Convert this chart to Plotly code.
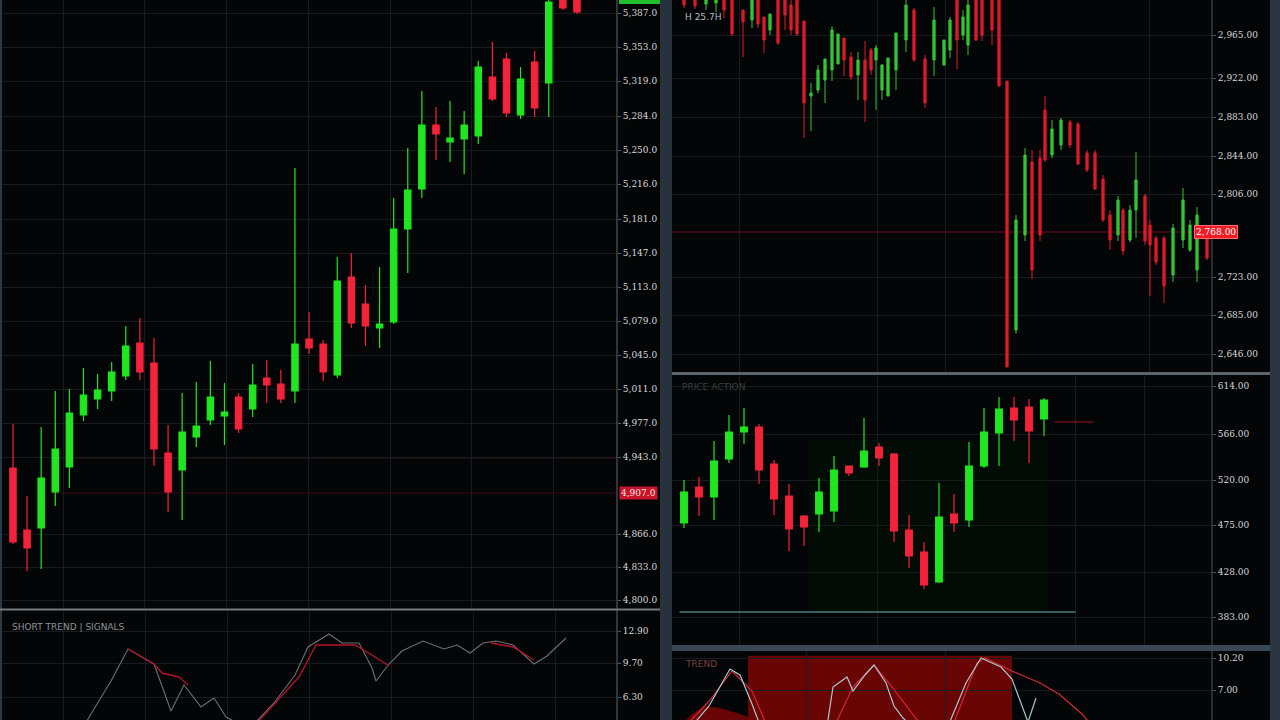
import plotly.graph_objects as go

W, H = 1280, 720
BG = "#040506"
GREEN = "#1fe61f"
RED = "#f4223a"
GRID = "#181c20"
TICK_FONT = dict(family="DejaVu Serif", size=9, color="#d4d7d9")

# ---------------- main chart (left) ----------------
main_open = [4932, 4870, 4872, 4908, 4933, 4985, 5001, 5009, 5024, 5057,
             5037, 4947, 4930, 4963, 4980, 4984, 5003, 4991, 5022, 5016,
             5009, 5061, 5056, 5025, 5123, 5096, 5072, 5078, 5171, 5211,
             5275, 5258, 5261, 5264, 5323, 5341, 5285, 5338, 5317, 5405, 5405]
main_high = [4976, 4904, 4973, 5009, 5011, 5032, 5026, 5038, 5074, 5082,
             5062, 4975, 5007, 5018, 5039, 5017, 5007, 5036, 5040, 5030,
             5232, 5088, 5060, 5143, 5147, 5115, 5133, 5202, 5252, 5309,
             5293, 5299, 5289, 5339, 5358, 5347, 5333, 5349, 5405, 5410, 5410]
main_low = [4856, 4829, 4831, 4894, 4912, 4979, 4991, 4999, 5020, 5020,
            4934, 4888, 4880, 4953, 4975, 4955, 4967, 4983, 4997, 4997,
            4997, 5046, 5019, 5022, 5072, 5054, 5052, 5076, 5127, 5202,
            5240, 5238, 5226, 5256, 5299, 5283, 5281, 5283, 5283, 5390, 5386]
main_close = [4858, 4852, 4922, 4951, 4987, 5005, 5010, 5028, 5054, 5028,
              4951, 4908, 4968, 4974, 5003, 4988, 4971, 5015, 5015, 5001,
              5056, 5052, 5028, 5119, 5077, 5074, 5076, 5171, 5210, 5275,
              5266, 5262, 5275, 5333, 5301, 5287, 5321, 5292, 5398, 5392, 5388]
main_ticks = [5387, 5353, 5319, 5284, 5250, 5216, 5181, 5147, 5113, 5079,
              5045, 5011, 4977, 4943, 4866, 4833, 4800]
main_last = 4907
main_levels = [4942, 4907]

# ---------------- oscillator under the main chart ----------------
osc_x = [49, 58, 64, 85, 111, 128, 154, 171, 184, 201, 214, 226, 239, 254,
         274, 295, 308, 329, 342, 359, 372, 376, 389, 402, 423, 444, 457,
         470, 483, 496, 513, 534, 547, 566]
osc_fast = [0.6, 2.3, 1.3, 3.6, 7.9, 11.1, 9.6, 4.9, 7.5, 5.3, 6.2, 4.3, 3.6,
            3.6, 5.7, 8.5, 11.3, 12.6, 11.7, 11.7, 9.2, 7.9, 9.6, 10.9, 11.9,
            11.1, 11.5, 10.7, 11.7, 11.9, 11.5, 9.6, 10.4, 12.2]
osc_sig_x = [55, 64, 85, None, 128, 154, 162, 179, 188, None,
             256, 275, 299, 316, 355, 372, 389, None, 491, 513, 534]
osc_sig = [0.8, 1.5, 3.6, None, 11.1, 9.6, 8.7, 8.3, 7.5, None,
           3.6, 5.7, 8.3, 11.5, 11.5, 10.5, 9.4, None, 11.7, 11.3, 10.0]
osc_ticks = [12.9, 9.7, 6.3]

# ---------------- intraday chart (right, top) ----------------
intra_t = [684, 695, 706, 716, 724, 732, 743, 752, 758, 764,
           770, 778, 785, 791, 797, 804, 811, 818, 825, 832,
           838, 844, 851, 858, 865, 871, 876, 882, 888, 896,
           906, 914, 925, 934, 944, 950, 957, 963, 968, 976,
           982, 992, 999, 1007, 1016, 1025, 1032, 1040, 1045, 1052,
           1061, 1070, 1078, 1087, 1095, 1103, 1110, 1118, 1123, 1130,
           1136, 1145, 1150, 1156, 1164, 1173, 1183, 1190, 1197, 1207]
intra_open = [3000, 3000, 2996, 2997, 3000, 3000, 2990, 2980, 3000, 2983,
              2970, 3000, 3000, 2995, 3000, 2979, 2904, 2910, 2920, 2930,
              2936, 2962, 2943, 2925, 2940, 2950, 2940, 2910, 2904, 2930,
              2960, 2990, 2941, 2940, 2935, 2950, 3000, 2965, 2955, 3000,
              3000, 3000, 3000, 2919, 2670, 2765, 2838, 2842, 2890, 2845,
              2855, 2878, 2876, 2847, 2847, 2821, 2785, 2765, 2790, 2760,
              2790, 2804, 2775, 2762, 2762, 2725, 2760, 2750, 2730, 2773]
intra_close = [2995, 2994, 3000, 3000, 2990, 2966, 2978, 3000, 2976, 2960,
               2986, 2957, 2985, 2970, 2966, 2897, 2907, 2930, 2941, 2970,
               2966, 2940, 2923, 2940, 2900, 2930, 2952, 2935, 2942, 2967,
               2995, 2940, 2897, 2980, 2960, 2980, 2960, 2983, 2995, 2960,
               2965, 2970, 2914, 2633, 2780, 2845, 2730, 2765, 2840, 2871,
               2880, 2855, 2836, 2830, 2811, 2780, 2760, 2800, 2749, 2790,
               2820, 2759, 2755, 2738, 2714, 2772, 2800, 2775, 2785, 2742]
intra_high = [3000, 3000, 3000, 3000, 3000, 3000, 2990, 3000, 3000, 2983,
              2986, 3000, 3000, 3000, 3000, 2979, 2917, 2935, 2941, 2974,
              2966, 2962, 2948, 2948, 2959, 2952, 2955, 2936, 2942, 2967,
              3000, 2992, 2945, 2993, 2960, 2983, 3000, 2990, 3000, 3000,
              3000, 3000, 3000, 2919, 2785, 2852, 2850, 2850, 2904, 2880,
              2882, 2880, 2878, 2850, 2850, 2825, 2790, 2804, 2792, 2795,
              2848, 2806, 2780, 2764, 2764, 2776, 2812, 2780, 2793, 2775]
intra_low = [2992, 2991, 2990, 2988, 2982, 2964, 2943, 2972, 2972, 2947,
             2965, 2955, 2970, 2965, 2964, 2862, 2869, 2907, 2897, 2919,
             2936, 2924, 2920, 2900, 2878, 2925, 2890, 2900, 2904, 2910,
             2948, 2938, 2892, 2924, 2934, 2942, 2931, 2960, 2945, 2959,
             2959, 2955, 2914, 2633, 2666, 2759, 2721, 2759, 2838, 2842,
             2850, 2852, 2835, 2828, 2810, 2778, 2750, 2759, 2745, 2758,
             2762, 2755, 2704, 2735, 2697, 2718, 2752, 2748, 2718, 2740]
intra_ticks = [2965, 2922, 2883, 2844, 2806, 2723, 2685, 2646]
intra_last = 2768

# ---------------- price action chart (right, middle) ----------------
pa_open = [477, 513, 503, 541, 568, 573, 536, 504, 484, 486,
           489, 534, 533, 553, 546, 470, 448, 418, 486, 480,
           534, 567, 592, 593, 581]
pa_close = [508, 503, 539, 568, 573, 530, 501, 471, 473, 508,
            530, 527, 549, 542, 469, 444, 415, 483, 477, 534,
            568, 591, 580, 569, 600]
pa_high = [520, 523, 559, 585, 592, 576, 540, 516, 485, 522,
           544, 534, 582, 557, 547, 485, 458, 517, 506, 558,
           592, 603, 603, 601, 602]
pa_low = [472, 484, 480, 537, 556, 516, 485, 449, 454, 468,
          478, 524, 532, 534, 458, 432, 411, 417, 468, 473,
          532, 534, 559, 537, 564]
pa_ticks = [614, 566, 520, 475, 428, 383]
pa_ref_level = 578
pa_base_level = 388

# ---------------- trend oscillator (right, bottom) ----------------
tr_x = [686, 709, 730, 740, 752, 763, 790, 826, 833, 847, 853, 865, 874, 886,
        894, 903, 919, 935, 946, 966, 981, 1001, 1012, 1028, 1036]
tr_fast = [2.7, 5.4, 9.1, 8.5, 5.6, 2.7, 2.0, 2.7, 7.3, 8.3, 6.9, 8.5, 9.5,
           7.7, 5.4, 4.2, 2.7, 2.0, 2.9, 7.7, 10.2, 9.3, 8.1, 3.8, 6.2]
tr_sig_x = [686, 693, 710, 732, 752, 767, 790, 833, 853, 874, 892, 911, 927,
            940, 950, 977, 985, 1012, 1040, 1059, 1082, 1098]
tr_sig = [3.1, 4.2, 6.0, 8.9, 6.9, 3.4, 2.0, 3.1, 7.3, 9.5, 7.3, 4.6, 2.7,
          2.0, 2.7, 9.7, 10.2, 8.9, 7.7, 6.6, 4.6, 2.7]
tr_ticks = [10.2, 7.0]
tr_zone = [748, 1012]


def px_x(p):
    return p / W


def px_y(p):
    return 1 - p / H


fig = go.Figure()

candle_style = dict(
    increasing=dict(line=dict(color=GREEN, width=1.2), fillcolor=GREEN),
    decreasing=dict(line=dict(color=RED, width=1.2), fillcolor=RED),
    hoverinfo="skip", showlegend=False,
)

fig.add_trace(go.Candlestick(x=list(range(len(main_open))), open=main_open,
                             high=main_high, low=main_low, close=main_close,
                             xaxis="x", yaxis="y", **candle_style))

fig.add_trace(go.Scatter(x=osc_x, y=osc_fast, mode="lines",
                         line=dict(color="#6a7175", width=1.1),
                         xaxis="x2", yaxis="y2", showlegend=False, hoverinfo="skip"))
fig.add_trace(go.Scatter(x=osc_sig_x, y=osc_sig, mode="lines",
                         line=dict(color="#b0132a", width=1.4),
                         xaxis="x2", yaxis="y2", showlegend=False, hoverinfo="skip",
                         connectgaps=False))

thin_style = dict(
    increasing=dict(line=dict(color="#34c434", width=1), fillcolor="#34c434"),
    decreasing=dict(line=dict(color="#dc1a2a", width=1), fillcolor="#dc1a2a"),
    hoverinfo="skip", showlegend=False, whiskerwidth=0,
)
fig.add_trace(go.Candlestick(x=intra_t, open=intra_open,
                             high=intra_high, low=intra_low, close=intra_close,
                             xaxis="x3", yaxis="y3", **thin_style))

fig.add_trace(go.Candlestick(x=list(range(len(pa_open))), open=pa_open,
                             high=pa_high, low=pa_low, close=pa_close,
                             xaxis="x4", yaxis="y4", **candle_style))

fig.add_trace(go.Scatter(x=tr_sig_x, y=tr_sig, mode="lines",
                         line=dict(color="#d3283a", width=1.2),
                         xaxis="x5", yaxis="y5", showlegend=False, hoverinfo="skip"))
fig.add_trace(go.Scatter(x=tr_x, y=tr_fast, mode="lines",
                         line=dict(color="#a9c9cf", width=1.2),
                         xaxis="x5", yaxis="y5", showlegend=False, hoverinfo="skip"))

LX = [0, px_x(617)]
RX = [px_x(672), px_x(1212)]


def yaxis(domain, rng, ticks, fmt, anchor):
    return dict(domain=domain, range=rng, side="right", anchor=anchor,
                tickvals=ticks, tickformat=fmt, tickfont=TICK_FONT,
                ticks="outside", ticklen=3, tickcolor="#555b60",
                showgrid=True, gridcolor=GRID, gridwidth=1, zeroline=False,
                showline=False, fixedrange=True)


def xaxis(domain, rng, anchor, tick0=None, dtick=None, tickvals=None):
    d = dict(domain=domain, range=rng, anchor=anchor, showticklabels=False,
             showgrid=True, gridcolor=GRID, zeroline=False, showline=False,
             rangeslider=dict(visible=False), fixedrange=True, ticks="")
    if tickvals is not None:
        d["tickvals"] = tickvals
    else:
        d["tick0"] = tick0
        d["dtick"] = dtick
    return d


fig.update_layout(
    width=W, height=H, margin=dict(l=0, r=0, t=0, b=0),
    paper_bgcolor=BG, plot_bgcolor=BG, boxgap=0.36,
    xaxis=xaxis(LX, [-0.92, 42.84], "y", tick0=3.55, dtick=5.8),
    yaxis=yaxis([px_y(608), 1], [4792, 5400], main_ticks, ",.1f", "x"),
    xaxis2=xaxis(LX, [0, 617], "y2", tick0=63, dtick=82),
    yaxis2=yaxis([0, px_y(612)], [4.0, 14.8], osc_ticks, ".2f", "x2"),
    xaxis3=xaxis(RX, [672, 1212], "y3", tickvals=[739, 877, 945, 1149]),
    yaxis3=yaxis([px_y(372), 1], [2628, 3000], intra_ticks, ",.2f", "x3"),
    xaxis4=xaxis(RX, [-0.8, 35.2], "y4", tickvals=[3.67, 12.87, 26.13, 30.73]),
    yaxis4=yaxis([px_y(645), px_y(376)], [355, 624], pa_ticks, ".2f", "x4"),
    xaxis5=xaxis(RX, [672, 1212], "y5", tickvals=[806, 945]),
    yaxis5=yaxis([0, px_y(651)], [4.0, 10.9], tr_ticks, ".2f", "x5"),
)

shapes = []
# shaded trend zone behind the bottom-right oscillator
shapes.append(dict(type="rect", xref="x5", yref="y5 domain", x0=tr_zone[0], x1=tr_zone[1],
                   y0=0, y1=0.93, fillcolor="#740505", line=dict(width=0),
                   layer="below", opacity=0.9))
shapes.append(dict(type="path", xref="x5", yref="y5",
                   path="M 686,4.0 L 692,4.6 L 705,5.4 L 720,5.2 L 740,4.6 L 748,4.3 L 748,4.0 Z",
                   fillcolor="#740505", line=dict(width=0), layer="below", opacity=0.9))
# faint accumulation zone in the price action panel
shapes.append(dict(type="rect", xref="x4", yref="y4", x0=8.3, x1=24.2,
                   y0=pa_base_level, y1=560, fillcolor="#020c05",
                   line=dict(width=0), layer="below"))
# support / reference levels
for lv in main_levels:
    shapes.append(dict(type="line", xref="x", yref="y", x0=2.7, x1=42.84, y0=lv, y1=lv,
                       line=dict(color="#3a0c10", width=1.2), layer="below"))
shapes.append(dict(type="line", xref="x3", yref="y3", x0=672, x1=1212,
                   y0=intra_last, y1=intra_last, line=dict(color="#6a1018", width=1.2),
                   layer="below"))
shapes.append(dict(type="line", xref="x4", yref="y4", x0=24.7, x1=27.3,
                   y0=pa_ref_level, y1=pa_ref_level, line=dict(color="#a3121e", width=1.2)))
shapes.append(dict(type="line", xref="x4", yref="y4", x0=-0.3, x1=26.1,
                   y0=pa_base_level, y1=pa_base_level, line=dict(color="#4d7e7a", width=1.5)))


# panel frames and separators (paper coordinates)
def prect(x0, y0, x1, y1, color):
    return dict(type="rect", xref="paper", yref="paper",
                x0=px_x(x0), x1=px_x(x1), y0=px_y(y1), y1=px_y(y0),
                fillcolor=color, line=dict(width=0), layer="above")


shapes += [
    prect(0, 0, 2, 720, "#2c3a46"),
    prect(616.5, 0, 617.5, 720, "#5f666b"),
    prect(660, 0, 672, 720, "#27323c"),
    prect(0, 608.5, 660, 610.5, "#737b80"),
    prect(1211.5, 0, 1212.5, 720, "#4e565d"),
    prect(1270, 0, 1280, 720, "#2a3541"),
    prect(672, 372, 1270, 375, "#5c656c"),
    prect(672, 645, 1270, 651, "#3a4754"),
    prect(619, 0, 660, 4, "#1fbf2a"),
]
fig.update_layout(shapes=shapes)


def label(x, y, text, color, size=9):
    return dict(xref="paper", yref="paper", x=px_x(x), y=px_y(y),
                xanchor="left", yanchor="middle", text=text, showarrow=False,
                font=dict(family="DejaVu Sans", size=size, color=color))


annotations = [
    dict(xref="paper", yref="y", x=px_x(638), y=main_last, text=f"{main_last:,.1f}",
         showarrow=False, bgcolor="#c8142a", yanchor="middle",
         font=dict(family="DejaVu Serif", size=9, color="#ffe6e6"), borderpad=1),
    dict(xref="paper", yref="y3", x=px_x(1238), y=intra_last, text=f"{intra_last:,.2f}",
         showarrow=False, bgcolor="#ee1c26", bordercolor="#ff6a6a", borderwidth=1,
         yanchor="middle", font=dict(family="DejaVu Serif", size=9, color="#ffffff"),
         borderpad=1),
    label(10, 627, "SHORT TREND | SIGNALS", "#8f9598"),
    label(680, 387, "PRICE ACTION", "#3b4040"),
    label(683, 664, "TREND", "#7a4040"),
    label(683, 17, "H 25.7H", "#b9bdbf"),
]
fig.update_layout(annotations=annotations)

fig.write_html("out.html")
